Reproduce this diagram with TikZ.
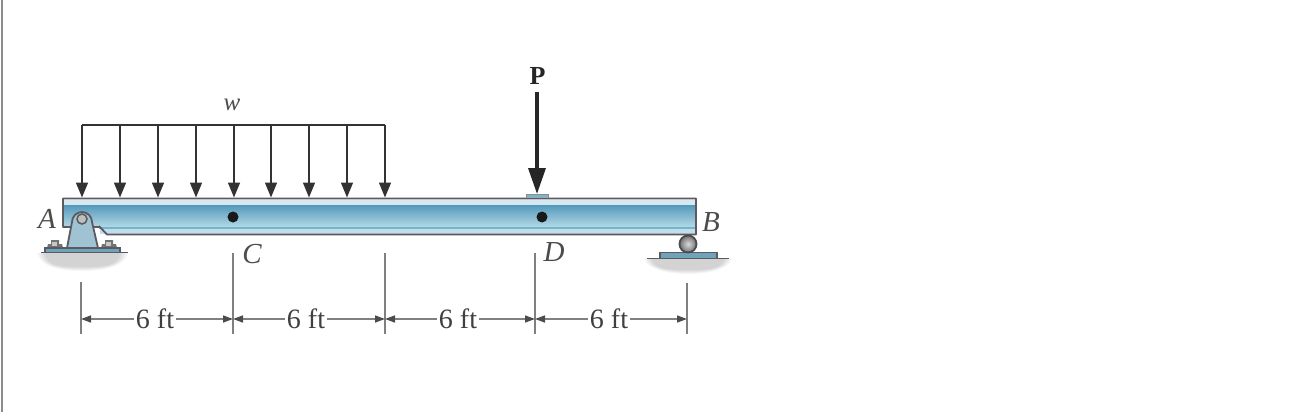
\documentclass[tikz,border=0pt]{standalone}
\usepackage{fontspec}
\setmainfont{Liberation Serif}
\usetikzlibrary{arrows.meta,calc}
\definecolor{edgec}{HTML}{5A5A60}
\definecolor{steelA}{HTML}{5499BA}
\definecolor{steelB}{HTML}{B4D8E6}
\definecolor{stripL}{HTML}{D6E9F1}
\definecolor{stripT}{HTML}{6FB6CF}
\definecolor{bracket}{HTML}{9FC3D3}
\definecolor{plate}{HTML}{6FA3BC}
\definecolor{dimc}{HTML}{808080}
\tikzset{
 x=1pt,y=-1pt,
 load/.style={draw=black!80,line width=1.5,-{Triangle[width=12,length=15]}},
 heavy/.style={draw=black!85,line width=3.4,-{Triangle[width=17,length=26]}},
 extl/.style={draw=dimc,line width=1.5},
 dimarrow/.style={draw=dimc,line width=1.5,-{Triangle[width=7,length=10,color=black!70]}},
 dimtext/.style={font=\fontsize{28}{28}\selectfont,text=black!75,inner sep=2pt},
 letter/.style={font=\fontsize{29}{29}\selectfont\itshape,text=black!70,inner sep=0pt},
 outline/.style={draw=edgec,line width=1.8,line join=round},
 pt/.style={circle,fill=black!90,minimum size=11,inner sep=0pt},
 shadow/.style={fill=black,opacity=0.035,draw=none},
}
\begin{document}
\begin{tikzpicture}
\useasboundingbox (0,0) rectangle (1315,412);
\fill[white] (0,0) rectangle (1315,412);
\fill[black!45] (0.5,0) rectangle (2.5,412);

% ground shadows
\foreach \i in {0,1,2,3,4}{
  \fill[shadow] ({37+\i*2},253) -- ({128-\i*2},253) .. controls ({126-\i*2},{263+\i/2}) and ({112-\i},{271-\i}) .. (82,{271-\i}) .. controls ({52+\i},{271-\i}) and ({39+\i*2},{263+\i/2}) .. ({37+\i*2},253) -- cycle;
  \fill[shadow] ({644+\i*2},259) -- ({732-\i*2},259) .. controls ({730-\i*2},{266+\i/2}) and ({716-\i},{274-\i}) .. (688,{274-\i}) .. controls ({660+\i},{274-\i}) and ({646+\i*2},{266+\i/2}) .. ({644+\i*2},259) -- cycle;
}

% beam
\path[top color=steelA,bottom color=steelB] (63,205) rectangle (696,227);
\fill[stripL] (63,200) rectangle (696,205);
\fill[stripT] (63,226.5) rectangle (696,229);
\fill[stripL!85!steelA] (100,229) rectangle (696,234);
\draw[outline] (100,227) -- (63,227) -- (63,198.5) -- (696,198.5) -- (696,234.5) -- (107,234.5) -- (99,226);
\fill[white] (63,228) rectangle (99,236);

% support A
\foreach \x in {55,109}{
  \fill[black!55] (\x-8,248) -- (\x-7,244) -- (\x-4,244) -- (\x-4,240) -- (\x+4,240) -- (\x+4,244) -- (\x+7,244) -- (\x+8,248) -- cycle;
  \fill[black!22] (\x-3,241.5) rectangle (\x+2,246);
}
\fill[plate] (45,248) rectangle (120,251.5);
\draw[edgec,line width=1.4] (45,252) -- (45,247.8) -- (120,247.8) -- (120,252);
\draw[edgec,line width=1.7] (41,252.5) -- (128,252.5);
\draw[outline,fill=bracket] (67,248) -- (72,222) arc[start angle=180,end angle=360,radius=10] -- (98,248) -- cycle;
\node[circle,draw=edgec,line width=1.5,fill=black!25,minimum size=10,inner sep=0pt] (pinA) at (82,219) {};
\node[letter] (labA) at (47,219) {A};

% support B
\fill[plate] (660,253) rectangle (717,258);
\draw[edgec,line width=1.2] (660,258) -- (660,252.5) -- (717,252.5) -- (717,258);
\draw[edgec,line width=1.8] (647,258.5) -- (729,258.5);
\node[circle,draw=black!70,line width=1.8,inner color=black!15,outer color=black!55,minimum size=17,inner sep=0pt] (roller) at (688,244) {};
\node[letter] (labB) at (711,222) {B};

% plate at D
\fill[plate!85!white] (526,194) rectangle (548,198);
\draw[edgec!70,line width=0.8] (526,198) -- (526,194.5) -- (548,194.5) -- (548,198);

% points
\node[pt] (ptC) at (233,217) {};
\node[pt] (ptD) at (542,217) {};
\node[letter] (labC) at (252,254) {C};
\node[letter] (labD) at (554,252) {D};

% distributed load
\coordinate (wL) at (82,125);
\coordinate (wR) at (385,125);
\draw[draw=black!80,line width=1.5] (wL) -- (wR);
\foreach \x in {82,120,158,196,234,271,309,347,385}{
  \coordinate (wt) at (\x,124.5);
  \coordinate (wb) at (\x,197.5);
  \draw[load] (wt) -- (wb);
}
\node[font=\fontsize{25}{25}\selectfont\itshape,text=black!70,inner sep=0pt] (labW) at (232,105) {w};

% point load
\node[font=\fontsize{26}{26}\selectfont\bfseries,text=black!85,inner sep=0pt] (labP) at (537.5,76) {P};
\coordinate (Pt) at (537,92);
\coordinate (Pb) at (537,194);
\draw[heavy] (Pt) -- (Pb);

% dimensions
\coordinate (e1) at (81,319);
\coordinate (e2) at (233,319);
\coordinate (e3) at (385,319);
\coordinate (e4) at (535,319);
\coordinate (e5) at (687,319);
\draw[extl] (81,282) -- (81,334);
\draw[extl] (233,253) -- (233,334);
\draw[extl] (385,253) -- (385,334);
\draw[extl] (535,253) -- (535,334);
\draw[extl] (687,283) -- (687,334);
\node[dimtext] (d1) at (155,319) {6 ft};
\node[dimtext] (d2) at (306,319) {6 ft};
\node[dimtext] (d3) at (458,319) {6 ft};
\node[dimtext] (d4) at (609,319) {6 ft};
\draw[dimarrow] (d1.west) -- (e1);
\draw[dimarrow] (d1.east) -- (e2);
\draw[dimarrow] (d2.west) -- (e2);
\draw[dimarrow] (d2.east) -- (e3);
\draw[dimarrow] (d3.west) -- (e3);
\draw[dimarrow] (d3.east) -- (e4);
\draw[dimarrow] (d4.west) -- (e4);
\draw[dimarrow] (d4.east) -- (e5);
\end{tikzpicture}
\end{document}
